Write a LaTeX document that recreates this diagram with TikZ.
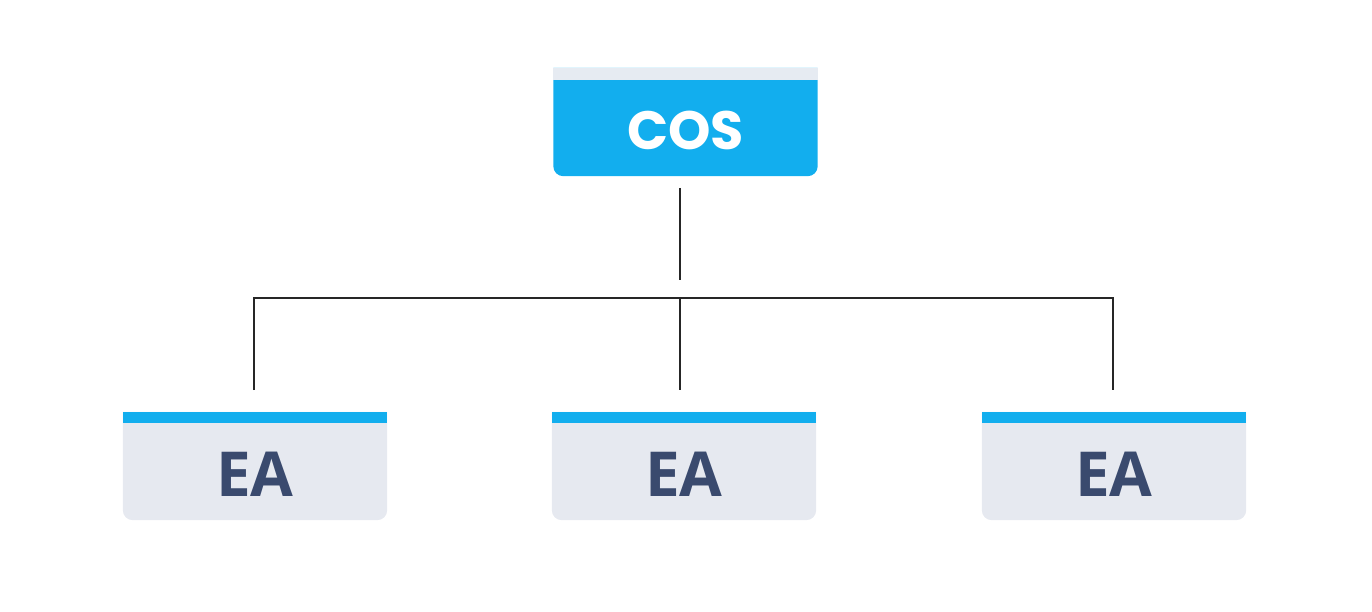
\documentclass[tikz,border=0pt]{standalone}
\usepackage{fontspec}
\setmainfont{Poppins}
\newfontfamily\eafont{Open Sans}
\usetikzlibrary{positioning}
\definecolor{cosblue}{HTML}{12AEEE}
\definecolor{strip}{HTML}{E6EBF2}
\definecolor{eabody}{HTML}{E6E9F0}
\definecolor{eatext}{HTML}{3A4A6E}
\tikzset{
  unit/.style={minimum width=264pt, minimum height=108pt, inner sep=0pt},
  link/.style={line width=1.6pt, black!85}
}
\begin{document}
\begin{tikzpicture}[x=1pt, y=-1pt]
    \useasboundingbox (0,0) rectangle (1372,612);
    % boxes
    \node[unit] (cos) at (685.5,122) {};
    \node[unit] (ea1) at (255,466) {};
    \node[unit] (ea2) at (684,466) {};
    \node[unit] (ea3) at (1114,466) {};
    \fill[cosblue] (cos.north west) -- (cos.north east)
        [rounded corners=10] -- (cos.south east) -- (cos.south west) [sharp corners] -- cycle;
    \fill[strip] (cos.north west) rectangle ([yshift=-12pt]cos.north east);
    \foreach \n in {ea1, ea2, ea3} {
        \fill[eabody] (\n.north west) -- (\n.north east)
            [rounded corners=10] -- (\n.south east) -- (\n.south west) [sharp corners] -- cycle;
        \fill[cosblue] (\n.north west) rectangle ([yshift=-11pt]\n.north east);
        \node[font=\eafont\bfseries\fontsize{62}{62}\selectfont, text=eatext] at ([yshift=-8pt]\n.center) {EA};
    }
    \node[font=\bfseries\fontsize{54}{54}\selectfont, text=white] at ([yshift=-8pt]cos.center) {COS};
    % connectors
    \coordinate (top1) at (680,188);
    \coordinate (top2) at (680,280);
    \coordinate (barl) at (254,298);
    \coordinate (barm) at (680,298);
    \coordinate (barr) at (1113,298);
    \coordinate (end1) at (254,390);
    \coordinate (end2) at (680,390);
    \coordinate (end3) at (1113,390);
    \draw[link] (top1) -- (top2);
    \draw[link] (end1) -- (barl) -- (barr) -- (end3);
    \draw[link] (barm) -- (end2);
\end{tikzpicture}
\end{document}
